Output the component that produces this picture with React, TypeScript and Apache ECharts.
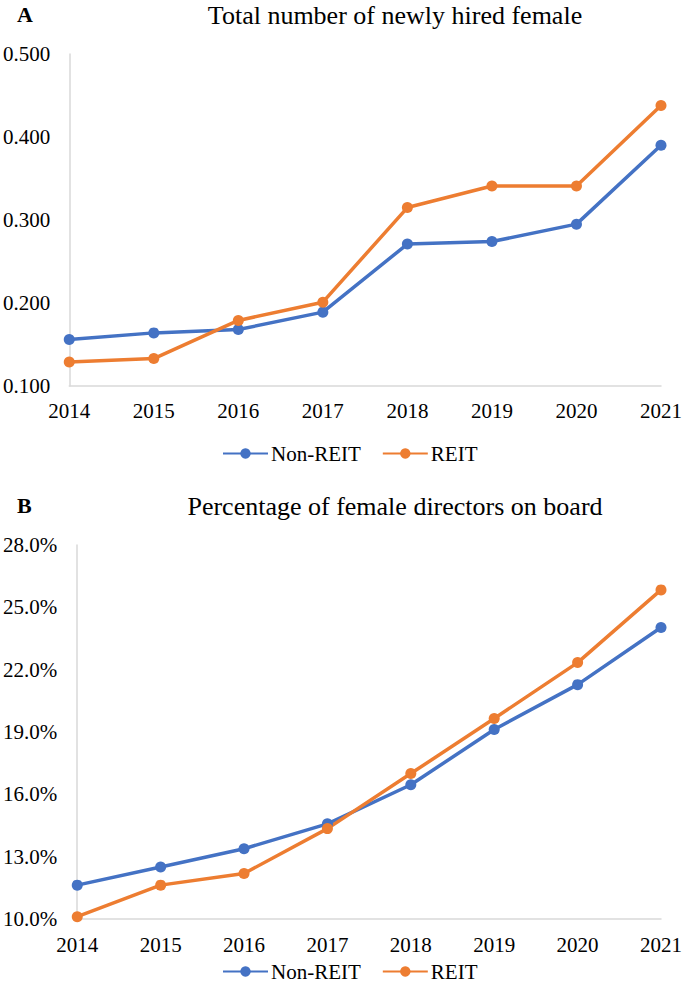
import React, { useEffect, useRef } from 'react';
import * as echarts from 'echarts';

const years = ['2014', '2015', '2016', '2017', '2018', '2019', '2020', '2021'];

// A: total number of newly hired female
const hiredNonReit = [0.156, 0.164, 0.168, 0.189, 0.271, 0.274, 0.295, 0.39];
const hiredReit = [0.129, 0.133, 0.179, 0.201, 0.315, 0.341, 0.341, 0.438];

// B: percentage of female directors on board (%)
const boardNonReit = [11.63, 12.5, 13.38, 14.58, 16.46, 19.12, 21.28, 24.03];
const boardReit = [10.11, 11.63, 12.19, 14.35, 17.0, 19.65, 22.34, 25.84];
const boardTicks = [10, 13, 16, 19, 22, 25, 28];

const BLUE = '#4472C4';
const ORANGE = '#ED7D31';
const FONT = 'Liberation Serif';

const App: React.FC = () => {
  const chartRef = useRef<HTMLDivElement>(null);

  useEffect(() => {
    document.body.style.margin = '0';
    if (!chartRef.current) return;
    const chart = echarts.init(chartRef.current, undefined, { renderer: 'svg' });

    const lineSeries = (name: string, color: string, data: number[], idx: number) => ({
      name,
      type: 'line',
      xAxisIndex: idx,
      yAxisIndex: idx,
      data,
      symbol: 'circle',
      symbolSize: 11,
      lineStyle: { width: 3.5, color },
      itemStyle: { color },
    });

    const labelStyle = { color: '#000', fontFamily: FONT, fontSize: 21 };

    const xAxisBase = (gridIndex: number, margin: number) => ({
      type: 'category',
      gridIndex,
      data: years,
      boundaryGap: false,
      axisLine: { lineStyle: { color: '#D9D9D9', width: 1.5 } },
      axisTick: { show: false },
      axisLabel: { ...labelStyle, margin, interval: 0 },
    });

    const legendBase = (top: number) => ({
      left: 222,
      top,
      padding: 0,
      itemWidth: 45,
      itemHeight: 13,
      itemGap: 21,
      data: ['Non-REIT', 'REIT'],
      textStyle: { ...labelStyle, padding: [0, 0, 0, -2] },
    });

    const option = {
      animation: false,
      backgroundColor: '#fff',
      textStyle: { fontFamily: FONT },
      graphic: [
        { type: 'text', left: 17, top: 3, style: { text: 'A', font: `bold 22px ${FONT}`, fill: '#000' } },
        { type: 'text', x: 395, y: 15, style: { text: 'Total number of newly hired female', font: `26px ${FONT}`, fill: '#000', textAlign: 'center', textVerticalAlign: 'middle' } },
        { type: 'text', left: 17, top: 494, style: { text: 'B', font: `bold 22px ${FONT}`, fill: '#000' } },
        { type: 'text', x: 395, y: 506, style: { text: 'Percentage of female directors on board', font: `26px ${FONT}`, fill: '#000', textAlign: 'center', textVerticalAlign: 'middle' } },
      ],
      legend: [
        { ...legendBase(443) },
        { ...legendBase(961) },
      ],
      grid: [
        { left: 67, right: 20, top: 54, height: 332 },
        { left: 75, right: 20, top: 545, height: 374 },
      ],
      xAxis: [xAxisBase(0, 14), xAxisBase(1, 15)],
      yAxis: [
        {
          type: 'value',
          gridIndex: 0,
          min: 0.1,
          max: 0.5,
          interval: 0.1,
          axisLine: { show: true, lineStyle: { color: '#D9D9D9', width: 1.5 } },
          axisTick: { show: false },
          splitLine: { show: false },
          axisLabel: {
            ...labelStyle,
            margin: 19,
            formatter: (v: number) => v.toFixed(3),
          },
        },
        {
          type: 'value',
          gridIndex: 1,
          min: 10,
          max: 28,
          axisLine: { show: true, lineStyle: { color: '#D9D9D9', width: 1.5 } },
          axisTick: { show: false },
          splitLine: { show: false },
          axisLabel: {
            ...labelStyle,
            margin: 20,
            customValues: boardTicks,
            formatter: (v: number) => `${v.toFixed(1)}%`,
          },
        },
      ],
      series: [
        lineSeries('Non-REIT', BLUE, hiredNonReit, 0),
        lineSeries('REIT', ORANGE, hiredReit, 0),
        lineSeries('Non-REIT', BLUE, boardNonReit, 1),
        lineSeries('REIT', ORANGE, boardReit, 1),
      ],
    };

    chart.setOption(option as any);
    return () => chart.dispose();
  }, []);

  return <div ref={chartRef} style={{ width: 685, height: 988 }} />;
};

export default App;
